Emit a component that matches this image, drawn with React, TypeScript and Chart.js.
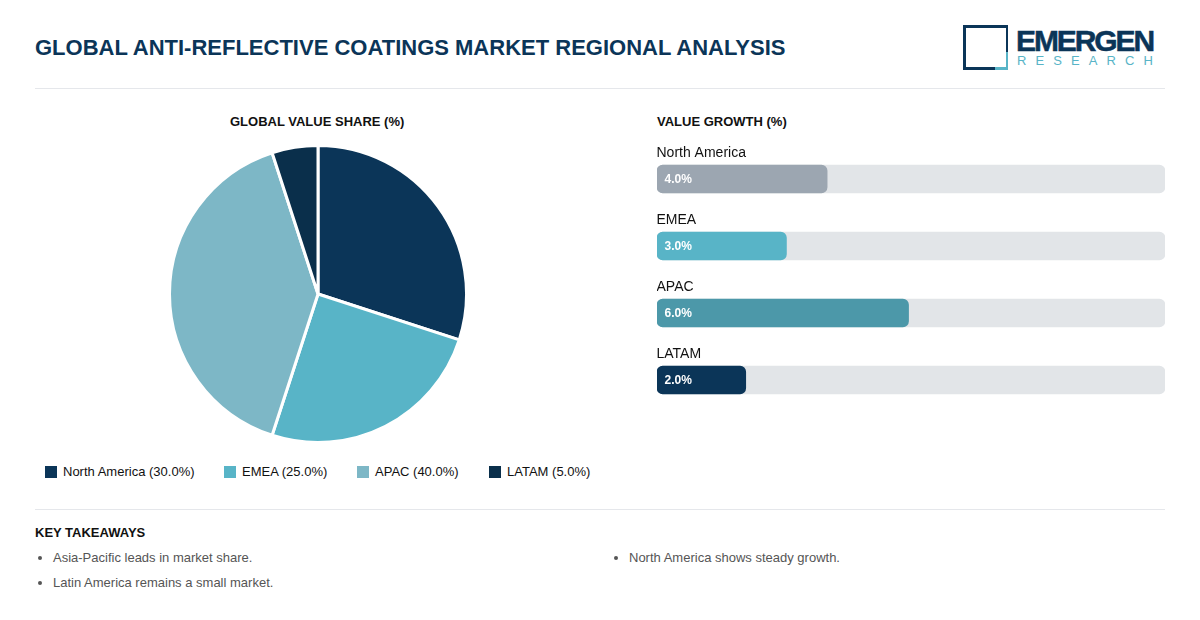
import { useEffect, useRef } from "react";
import { Chart, registerables } from "chart.js";
import type { Plugin } from "chart.js";

Chart.register(...registerables);

const regions = ["North America", "EMEA", "APAC", "LATAM"];
const shareValues = [30, 25, 40, 5];
const shareColors = ["#0b3558", "#58b4c7", "#7db7c6", "#0a2f4b"];
const growthValues = [4, 3, 6, 2];
const growthColors = ["#9ca6b1", "#58b4c7", "#4c98a9", "#0b3558"];
const takeawaysLeft = ["Asia-Pacific leads in market share.", "Latin America remains a small market."];
const takeawaysRight = ["North America shows steady growth."];

const AXIS_MIN = -0.18;
const AXIS_MAX = 12.3;
const FONT = '"Liberation Sans", Arial, sans-serif';

// region name above each bar, value inside it
const barLabels: Plugin<"bar"> = {
  id: "barLabels",
  afterDatasetsDraw(chart) {
    const { ctx } = chart;
    const y = chart.scales.y;
    const x = chart.scales.x;
    ctx.save();
    ctx.textBaseline = "middle";
    regions.forEach((name, i) => {
      const cy = y.getPixelForValue(i);
      ctx.fillStyle = "#111111";
      ctx.font = `14px ${FONT}`;
      ctx.fillText(name, x.left - 0.5, cy - 26);
      ctx.fillStyle = "#ffffff";
      ctx.font = `bold 12px ${FONT}`;
      ctx.fillText(growthValues[i].toFixed(1) + "%", x.left + 7.5, cy + 1);
    });
    ctx.restore();
  },
};

function text(left: number, top: number, size: number, color: string, bold = false): React.CSSProperties {
  return {
    position: "absolute",
    left,
    top,
    fontSize: size,
    lineHeight: `${size + 4}px`,
    color,
    fontWeight: bold ? 700 : 400,
    whiteSpace: "nowrap",
  };
}

function Takeaways({ items, left, textLeft }: { items: string[]; left: number; textLeft: number }) {
  return (
    <>
      {items.map((t, i) => (
        <div key={t}>
          <div
            style={{
              position: "absolute",
              left: left,
              top: 556 + i * 25,
              width: 4,
              height: 4,
              borderRadius: 2,
              background: "#555555",
            }}
          />
          <div style={text(textLeft, 549 + i * 25, 13, "#555555")}>{t}</div>
        </div>
      ))}
    </>
  );
}

export default function App() {
  const pieRef = useRef<HTMLCanvasElement>(null);
  const barRef = useRef<HTMLCanvasElement>(null);

  useEffect(() => {
    document.body.style.margin = "0";
    if (!pieRef.current || !barRef.current) return;

    const pie = new Chart(pieRef.current, {
      type: "pie",
      data: {
        labels: regions,
        datasets: [
          {
            data: shareValues,
            backgroundColor: shareColors,
            borderColor: "#ffffff",
            borderWidth: 3,
          },
        ],
      },
      options: {
        animation: false,
        responsive: false,
        layout: { padding: 0 },
        plugins: { legend: { display: false }, tooltip: { enabled: false } },
      },
    });

    const bars = new Chart(barRef.current, {
      type: "bar",
      data: {
        labels: regions,
        datasets: [
          {
            data: growthValues,
            base: AXIS_MIN,
            backgroundColor: growthColors,
            borderRadius: 6,
            borderSkipped: false,
            barThickness: 28,
            order: 1,
          },
          {
            data: regions.map(() => AXIS_MAX),
            base: AXIS_MIN,
            backgroundColor: "#e2e5e8",
            borderRadius: 6,
            borderSkipped: false,
            barThickness: 28,
            order: 2,
          },
        ],
      },
      options: {
        indexAxis: "y",
        animation: false,
        responsive: false,
        layout: { padding: { top: 0.5, bottom: 0.5 } },
        plugins: { legend: { display: false }, tooltip: { enabled: false } },
        scales: {
          x: { display: false, stacked: false, min: AXIS_MIN, max: AXIS_MAX },
          y: { display: false, stacked: true },
        },
      },
      plugins: [barLabels],
    });

    return () => {
      pie.destroy();
      bars.destroy();
    };
  }, []);

  return (
    <div
      style={{
        position: "absolute",
        left: 0,
        top: 0,
        width: 1200,
        height: 620,
        background: "#ffffff",
        overflow: "hidden",
        fontFamily: FONT,
      }}
    >
      <div style={text(35, 35, 22, "#0b3558", true)}>GLOBAL ANTI-REFLECTIVE COATINGS MARKET REGIONAL ANALYSIS</div>

      {/* logo */}
      <div
        style={{
          position: "absolute",
          left: 963,
          top: 25,
          width: 45,
          height: 45,
          boxSizing: "border-box",
          borderStyle: "solid",
          borderWidth: 3,
          borderColor: "#0b3558",
          borderRightWidth: 2,
        }}
      />
      <div style={{ position: "absolute", left: 995, top: 67, width: 13, height: 3, background: "#58b4c7" }} />
      <div style={{ position: "absolute", left: 1006, top: 52, width: 2, height: 18, background: "#58b4c7" }} />
      <div
        style={{
          ...text(1016, 25, 30, "#0b3558", true),
          lineHeight: "32px",
          WebkitTextStroke: "0.5px #0b3558",
          letterSpacing: -2.1,
        }}
      >
        EMERGEN
      </div>
      <div style={{ ...text(1017, 52, 13, "#58b4c7"), letterSpacing: 9.1 }}>RESEARCH</div>

      <div style={{ position: "absolute", left: 35, top: 88, width: 1130, height: 1, background: "#e5e7eb" }} />

      <div style={text(230, 113, 13, "#111111", true)}>GLOBAL VALUE SHARE (%)</div>
      <canvas
        ref={pieRef}
        width={300}
        height={300}
        style={{ position: "absolute", left: 168, top: 144, width: 300, height: 300 }}
      />

      {regions.map((r, i) => (
        <div key={r}>
          <div
            style={{
              position: "absolute",
              left: [45, 224, 357, 489][i],
              top: 466,
              width: 12,
              height: 12,
              background: shareColors[i],
            }}
          />
          <div style={text([63, 242, 375, 507][i], 463, 13, "#111111")}>
            {r} ({shareValues[i].toFixed(1)}%)
          </div>
        </div>
      ))}

      <div style={text(657, 113, 13, "#111111", true)}>VALUE GROWTH (%)</div>
      <canvas
        ref={barRef}
        width={508}
        height={269}
        style={{ position: "absolute", left: 657, top: 145, width: 508, height: 269 }}
      />

      <div style={{ position: "absolute", left: 35, top: 509, width: 1130, height: 1, background: "#e5e7eb" }} />
      <div style={text(35, 524, 13, "#111111", true)}>KEY TAKEAWAYS</div>
      <Takeaways items={takeawaysLeft} left={38} textLeft={53} />
      <Takeaways items={takeawaysRight} left={614} textLeft={629} />
    </div>
  );
}
